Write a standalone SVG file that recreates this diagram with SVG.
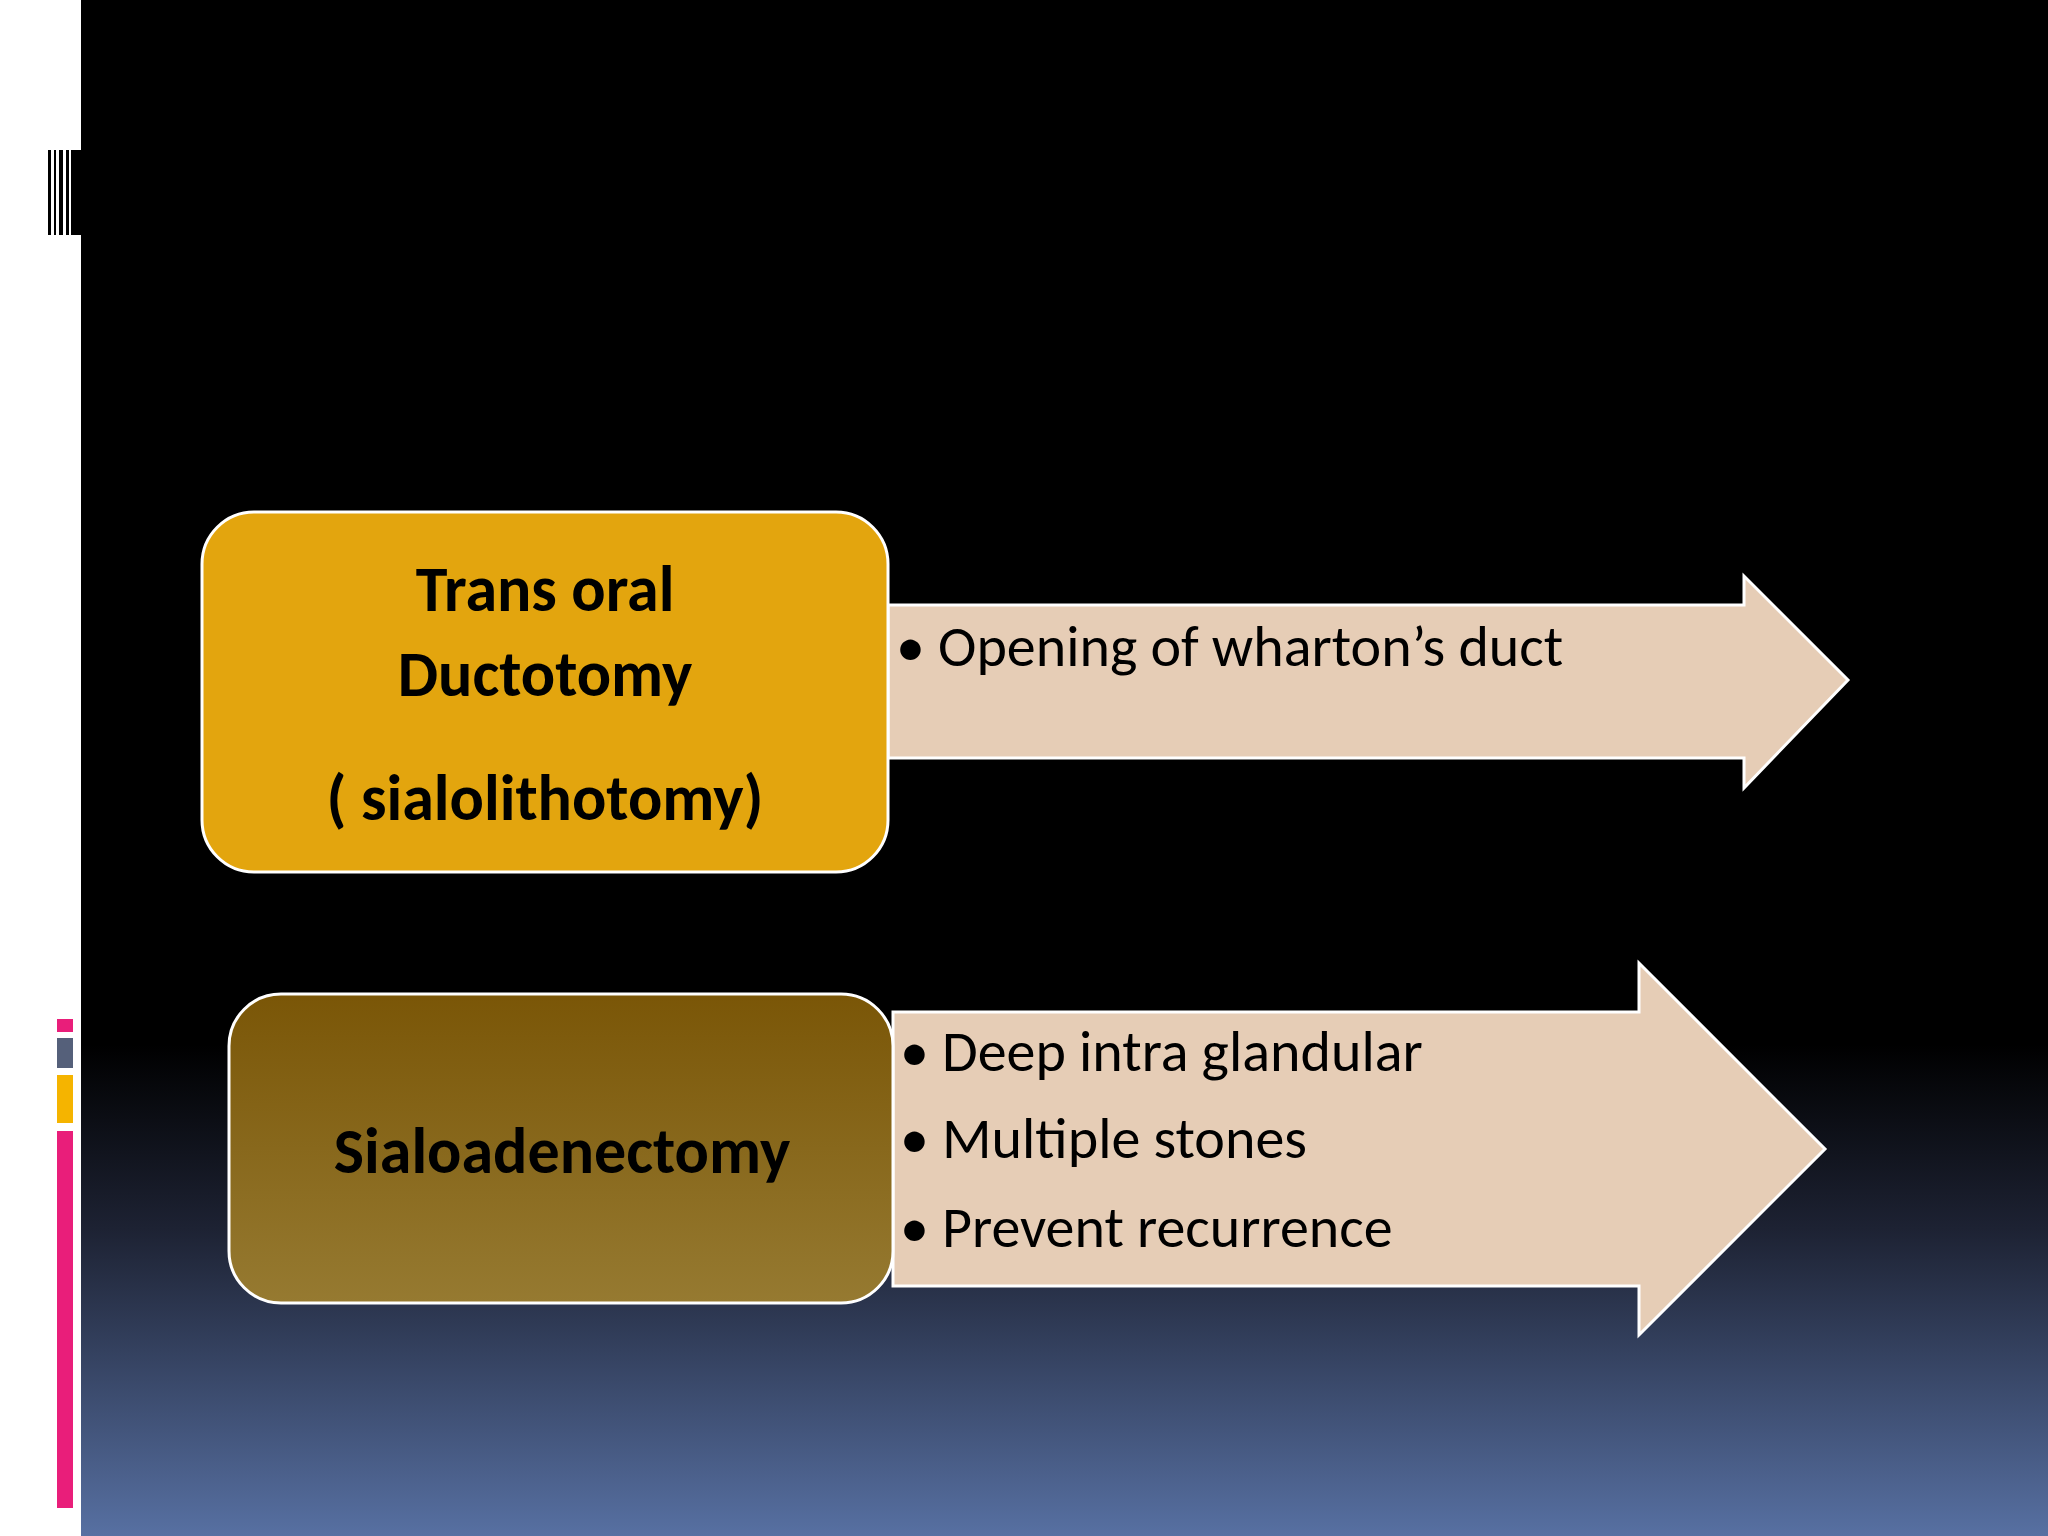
<svg xmlns="http://www.w3.org/2000/svg" width="2048" height="1536" viewBox="0 0 2048 1536">
<defs>
<linearGradient id="bg" x1="0" y1="0" x2="0" y2="1">
<stop offset="0" stop-color="#000"/><stop offset="0.68" stop-color="#000"/><stop offset="0.8" stop-color="#1d2233"/><stop offset="1" stop-color="#5770a2"/>
</linearGradient>
<linearGradient id="b2" x1="0" y1="0" x2="0" y2="1">
<stop offset="0" stop-color="#7a5607"/><stop offset="1" stop-color="#967a31"/>
</linearGradient>
<style>
.box{stroke:#fff;stroke-width:3}
.arr{fill:#e6cdb6;stroke:#fff;stroke-width:3}
.t{font-family:Carlito,"Open Sans","Liberation Sans",sans-serif;font-weight:bold;font-size:64px;fill:#000;text-anchor:middle}
.b{font-family:Carlito,"Open Sans","Liberation Sans",sans-serif;font-size:58px;fill:#000}
</style>
</defs>
<rect width="2048" height="1536" fill="url(#bg)"/>
<rect width="81" height="1536" fill="#fff"/>
<g fill="#000">
<rect x="48" y="150" width="3" height="85"/><rect x="54" y="150" width="2" height="85"/><rect x="59" y="150" width="4" height="85"/><rect x="66" y="150" width="3" height="85"/><rect x="71" y="150" width="10" height="85"/>
</g>
<rect x="57" y="1019" width="16" height="13" fill="#e91e7a"/>
<rect x="57" y="1038" width="16" height="30" fill="#55607a"/>
<rect x="57" y="1075" width="16" height="48" fill="#f5b400"/>
<rect x="57" y="1131" width="16" height="377" fill="#e91e7a"/>
<g id="connectors">
<path class="arr" d="M888 605 H1744 V576 L1848 680 L1744 788 V758 H888 Z"/>
<path class="arr" d="M893 1012 H1639 V963 L1825 1149 L1639 1335 V1286 H893 Z"/>
</g>
<g id="n1">
<rect class="box" x="202" y="512" width="686" height="360" rx="52" fill="#e3a50e"/>
<text class="t" x="545" y="611">Trans oral</text>
<text class="t" x="545" y="696">Ductotomy</text>
<text class="t" x="545" y="820">( sialolithotomy)</text>
</g>
<g id="n2">
<rect class="box" x="229" y="994" width="664" height="309" rx="52" fill="url(#b2)"/>
<text class="t" x="562" y="1173">Sialoadenectomy</text>
</g>
<g id="l1"><text class="b" x="896" y="666">• Opening of wharton’s duct</text></g>
<g id="l2">
<text class="b" x="900" y="1071">• Deep intra glandular</text>
<text class="b" x="900" y="1158">• Multiple stones</text>
<text class="b" x="900" y="1247">• Prevent recurrence</text>
</g>
</svg>
